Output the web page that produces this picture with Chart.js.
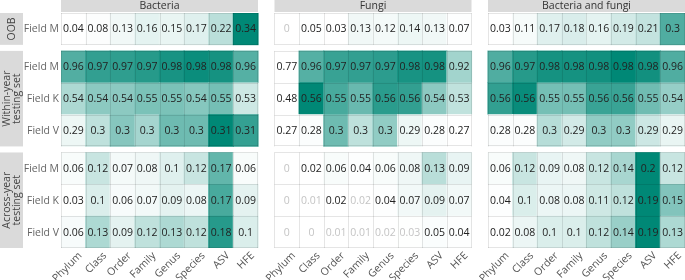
<!DOCTYPE html>
<html><head><meta charset="utf-8">
<script src="https://cdn.jsdelivr.net/npm/chart.js@4"></script>
<style>html,body{margin:0;padding:0;background:#fff}#wrap{width:685px;height:280px;position:relative}</style>
</head><body><div id="wrap"><canvas id="c" width="685" height="280"></canvas></div>
<script>
// ---- data ----
const taxa = ['Phylum','Class','Order','Family','Genus','Species','ASV','HFE'];
const panels = ['Bacteria','Fungi','Bacteria and fungi'];
const groups = [['OOB'], ['Within-year','testing set'], ['Across-year','testing set']];
const rowLabels = ['Field M','Field M','Field K','Field V','Field M','Field K','Field V'];
const rowGroup = [0,1,1,1,2,2,2];

// rows: OOB M, Within M/K/V, Across M/K/V
const bacteria = [
  [0.04, 0.08, 0.13, 0.16, 0.15, 0.17, 0.22, 0.34],
  [0.957, 0.968, 0.969, 0.972, 0.976, 0.980, 0.977, 0.956],
  [0.536, 0.543, 0.543, 0.546, 0.546, 0.544, 0.547, 0.527],
  [0.287, 0.296, 0.302, 0.299, 0.304, 0.304, 0.311, 0.308],
  [0.06, 0.12, 0.07, 0.08, 0.10, 0.12, 0.17, 0.06],
  [0.03, 0.10, 0.06, 0.07, 0.09, 0.08, 0.17, 0.09],
  [0.06, 0.13, 0.09, 0.12, 0.13, 0.12, 0.18, 0.10]
];
const fungi = [
  [0, 0.05, 0.03, 0.13, 0.12, 0.14, 0.13, 0.07],
  [0.770, 0.956, 0.966, 0.968, 0.970, 0.976, 0.977, 0.922],
  [0.477, 0.563, 0.554, 0.549, 0.558, 0.557, 0.543, 0.531],
  [0.270, 0.280, 0.304, 0.296, 0.301, 0.287, 0.280, 0.272],
  [0, 0.02, 0.06, 0.04, 0.06, 0.08, 0.13, 0.09],
  [0, 0.01, 0.02, 0.02, 0.04, 0.07, 0.09, 0.07],
  [0, 0, 0.01, 0.01, 0.02, 0.03, 0.05, 0.04]
];
const bacteriaFungi = [
  [0.03, 0.11, 0.17, 0.18, 0.16, 0.19, 0.21, 0.30],
  [0.958, 0.972, 0.977, 0.977, 0.978, 0.983, 0.978, 0.958],
  [0.557, 0.562, 0.547, 0.547, 0.556, 0.556, 0.548, 0.541],
  [0.280, 0.280, 0.297, 0.293, 0.301, 0.301, 0.294, 0.288],
  [0.06, 0.12, 0.09, 0.08, 0.12, 0.14, 0.20, 0.12],
  [0.04, 0.10, 0.08, 0.08, 0.11, 0.12, 0.19, 0.15],
  [0.02, 0.08, 0.10, 0.10, 0.12, 0.14, 0.19, 0.13]
];
// cells printed in grey (fungi panel) as [row, col]
const fungiGrey = [[0,0],[4,0],[5,0],[5,1],[5,3],[6,0],[6,1],[6,2],[6,3],[6,4],[6,5]];

// ---- layout / style ----
const matrices = [bacteria, fungi, bacteriaFungi];
const GX = 0.67, GY = 0.19;
const FONT = '"Open Sans", "DejaVu Sans", sans-serif';
const TEAL = [0, 136, 118];
function rowTop(r){ return r + rowGroup[r]*GY; }
function colLeft(p,c){ return p*(8+GX) + c; }
const rowMin = [], rowMax = [];
for (let r = 0; r < 7; r++) {
  const all = matrices.flatMap(m => m[r]);
  rowMin.push(Math.min(...all)); rowMax.push(Math.max(...all));
}
function cellColor(v, r){
  const t = (v - rowMin[r]) / (rowMax[r] - rowMin[r]);
  const I = Math.pow(Math.max(0, Math.min(1, t)), 3);
  const ch = TEAL.map(k => Math.round(255 + (k - 255) * I));
  return `rgb(${ch[0]},${ch[1]},${ch[2]})`;
}
function fmt(v){ return String(Math.round(v * 100) / 100); }
function isGrey(p,r,c){ return p === 1 && fungiGrey.some(a => a[0] === r && a[1] === c); }

const cells = [], colors = [];
matrices.forEach((m, p) => m.forEach((row, r) => row.forEach((v, c) => {
  cells.push({x: colLeft(p,c) + 0.5, y: [rowTop(r), rowTop(r) + 1], v, p, r, c});
  colors.push(cellColor(v, r));
})));

const decor = {
  id: 'decor',
  afterDatasetsDraw(chart){
    const {ctx, scales:{x, y}} = chart;
    const X = v => x.getPixelForValue(v), Y = v => y.getPixelForValue(v);
    ctx.save();
    // grid lines
    ctx.strokeStyle = 'rgba(0,0,0,0.10)'; ctx.lineWidth = 1;
    const groupRows = [[0,0],[1,3],[4,6]];
    for (let p = 0; p < 3; p++) {
      groupRows.forEach(([a,b]) => {
        const t = Y(rowTop(a)), bt = Y(rowTop(b) + 1);
        for (let c = 0; c <= 8; c++) {
          const xx = Math.round(X(colLeft(p,c))) + (c === 8 ? -0.5 : 0.5);
          ctx.beginPath(); ctx.moveTo(xx, t); ctx.lineTo(xx, bt); ctx.stroke();
        }
        for (let r = a; r <= b + 1; r++) {
          const yy = Math.round(Y(r === b + 1 ? rowTop(b) + 1 : rowTop(r))) + (r === b + 1 ? -0.5 : 0.5);
          ctx.beginPath(); ctx.moveTo(X(colLeft(p,0)), yy); ctx.lineTo(X(colLeft(p,8)), yy); ctx.stroke();
        }
      });
    }
    // cell text
    ctx.font = `10.5px ${FONT}`; ctx.textAlign = 'center'; ctx.textBaseline = 'middle';
    cells.forEach(d => {
      ctx.fillStyle = isGrey(d.p, d.r, d.c) ? '#c4c4c4' : '#222';
      ctx.fillText(fmt(d.v), X(d.x), Y(d.y[0] + 0.5) + 0.5);
    });
    // panel headers
    panels.forEach((name, p) => {
      const l = X(colLeft(p,0)), rr = X(colLeft(p,8));
      ctx.fillStyle = '#dadada'; ctx.fillRect(l, 0, rr - l, 12);
      ctx.fillStyle = '#333'; ctx.font = `10.5px ${FONT}`;
      ctx.fillText(name, (l + rr) / 2, 6.5);
    });
    // group boxes
    const gRange = [[0,0],[1,3],[4,6]];
    groups.forEach((lines, g) => {
      const t = Y(rowTop(gRange[g][0])), b = Y(rowTop(gRange[g][1]) + 1);
      ctx.fillStyle = '#dadada'; ctx.fillRect(0, t, 23, b - t);
      ctx.save(); ctx.translate(12, (t + b) / 2); ctx.rotate(-Math.PI / 2);
      ctx.fillStyle = '#444'; ctx.font = `10.5px ${FONT}`; ctx.textAlign = 'center'; ctx.textBaseline = 'middle';
      if (lines.length === 1) ctx.fillText(lines[0], 0, 0);
      else { ctx.fillText(lines[0], 0, -4.6); ctx.fillText(lines[1], 0, 4.6); }
      ctx.restore();
    });
    // row labels
    ctx.fillStyle = '#666'; ctx.font = `10.5px ${FONT}`; ctx.textAlign = 'right'; ctx.textBaseline = 'middle';
    rowLabels.forEach((lab, r) => ctx.fillText(lab, 59, Y(rowTop(r) + 0.5) + 0.5));
    // x tick labels
    ctx.fillStyle = '#555';
    for (let p = 0; p < 3; p++) taxa.forEach((t, c) => {
      ctx.save(); ctx.translate(X(colLeft(p,c) + 0.5) + 7, 254); ctx.rotate(-Math.PI / 4);
      ctx.textAlign = 'right'; ctx.textBaseline = 'middle'; ctx.fillText(t, 0, 0);
      ctx.restore();
    });
    ctx.restore();
  }
};

const chart = new Chart(document.getElementById('c'), {
  type: 'bar',
  data: { datasets: [{ data: cells, backgroundColor: colors, borderWidth: 0, barThickness: 24 }] },
  options: {
    responsive: false, animation: false, devicePixelRatio: 1,
    layout: { padding: { left: 61, top: 13, right: 0, bottom: 32 } },
    plugins: { legend: { display: false }, tooltip: { enabled: false } },
    scales: {
      x: { type: 'linear', min: 0, max: 24 + 2*GX, offset: false, display: false },
      y: { type: 'linear', min: 0, max: 7 + 2*GY, offset: false, reverse: true, display: false }
    }
  },
  plugins: [decor]
});
chart.data.datasets[0].barThickness = chart.scales.x.getPixelForValue(1) - chart.scales.x.getPixelForValue(0) + 0.5;
chart.update('none');
</script></body></html>
